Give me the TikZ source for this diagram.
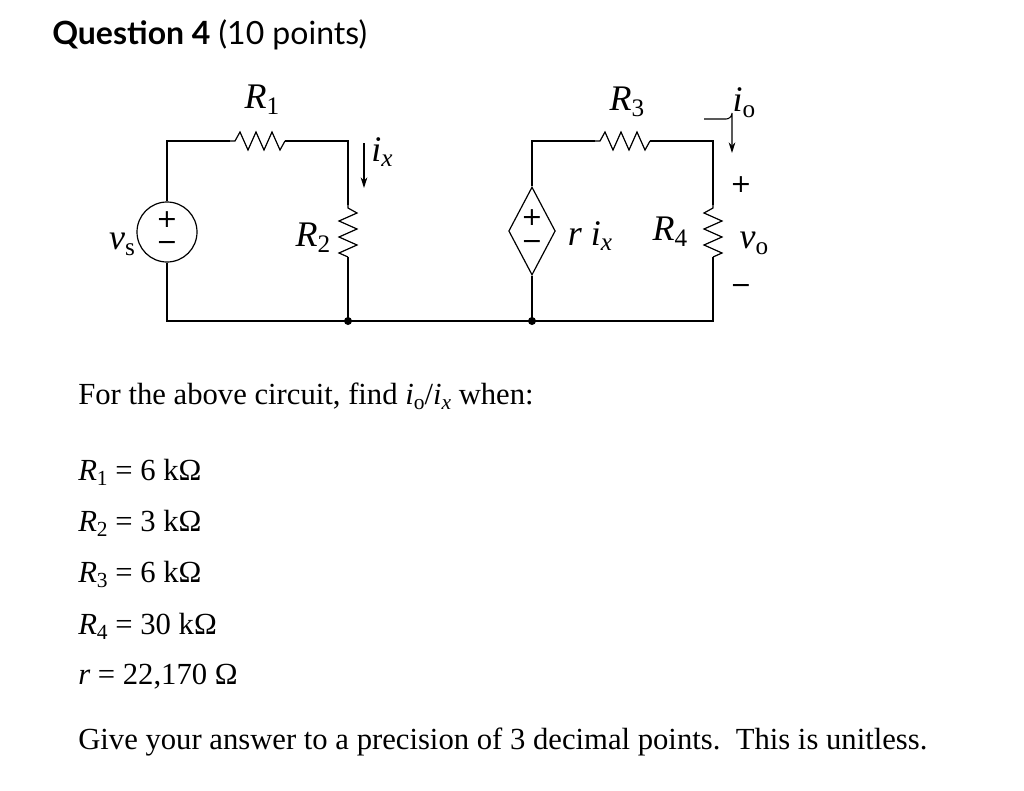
\documentclass[tikz,border=0pt]{standalone}
\usepackage{fontspec}
\setmainfont{Liberation Serif}
\newfontfamily\lato{Lato}
\newfontfamily\sgn{DejaVu Sans}
\usetikzlibrary{shapes.geometric,arrows.meta}
\newcommand{\iv}[1]{\textit{#1}}
\newcommand{\sbs}[1]{\raisebox{-0.35ex}{\scalebox{0.7}{#1}}}
\begin{document}
\begin{tikzpicture}[x=0.75pt,y=-0.75pt,
  wire/.style={line width=0.9pt},
  lbl/.style={inner sep=0pt,font=\fontsize{27}{29}\selectfont},
  sg/.style={inner sep=0pt,font=\sgn\fontsize{19}{19}\selectfont},
  txt/.style={anchor=west,inner sep=0pt,font=\fontsize{23}{26}\selectfont},
  dot/.style={circle,fill=black,inner sep=0pt,minimum size=6pt}]
\useasboundingbox (0,0) rectangle (1024,790);
% title
\node[anchor=west,inner sep=0pt,font=\lato\fontsize{24}{26}\selectfont] (title) at (52,35) {\textbf{Question 4} (10 points)};
% coordinates
\coordinate (tl) at (167,141); \coordinate (bl) at (167,321);
\coordinate (r1a) at (230,141); \coordinate (r1b) at (285,141);
\coordinate (tm) at (348,141); \coordinate (bm) at (348,321);
\coordinate (r2a) at (348,205); \coordinate (r2b) at (348,257);
\coordinate (tr) at (532,141); \coordinate (br) at (532,321);
\coordinate (r3a) at (595,141); \coordinate (r3b) at (650,141);
\coordinate (tR) at (713,141); \coordinate (bR) at (713,321);
\coordinate (r4a) at (713,205); \coordinate (r4b) at (713,257);
\node[draw,circle,minimum size=45pt,inner sep=0pt,line width=0.9pt] (vs) at (167,232) {};
\node[draw,diamond,minimum width=35pt,minimum height=66pt,inner sep=0pt,line width=0.9pt] (dep) at (532,231) {};
% wires
\draw[wire] (vs.north) -- (tl) -- (r1a);
\draw[wire] (r1b) -- (tm) -- (r2a);
\draw[wire] (r1a) -- ++(5,0) -- ++(5,-9) -- ++(8,18) -- ++(8,-18) -- ++(8,18) -- ++(8,-18) -- ++(8,18) -- (r1b);
\draw[wire] (r3a) -- ++(5,0) -- ++(5,-9) -- ++(8,18) -- ++(8,-18) -- ++(8,18) -- ++(8,-18) -- ++(8,18) -- (r3b);
\draw[wire] (r2a) -- ++(0,3) -- ++(9,5) -- ++(-18,8) -- ++(18,8) -- ++(-18,8) -- ++(18,8) -- ++(-18,8) -- (r2b);
\draw[wire] (r4a) -- ++(0,3) -- ++(-9,5) -- ++(18,8) -- ++(-18,8) -- ++(18,8) -- ++(-18,8) -- ++(18,8) -- (r4b);
\draw[wire] (r2b) -- (bm);
\draw[wire] (vs.south) -- (bl) -- (bR) -- (r4b);
\draw[wire] (r4a) -- (tR) -- (r3b);
\draw[wire] (r3a) -- (tr) -- (dep.north);
\draw[wire] (dep.south) -- (br);
\node[dot] (d1) at (bm) {};
\node[dot] (d2) at (br) {};
% signs
\node[sg] (vsp) at (167,220) {+};
\node[sg] (vsm) at (167,246) {−};
\node[sg] (dp) at (532,218) {+};
\node[sg] (dm) at (532,245) {−};
% labels
\node[lbl] (lR1) at (262,100) {\iv{R}\sbs{1}};
\node[lbl] (lR2) at (313,238) {\iv{R}\sbs{2}};
\node[lbl] (lvs) at (122,244) {\iv{v}\sbs{s}};
\node[lbl] (lR3) at (627,102) {\iv{R}\sbs{3}};
\node[lbl] (lR4) at (670,232) {\iv{R}\sbs{4}};
\node[lbl] (lri) at (590,236) {\iv{r} \iv{i}\sbs{\iv{x}}};
\node[lbl] (lix) at (382,152) {\iv{i}\sbs{\iv{x}}};
\node[lbl] (lio) at (744,103) {\iv{i}\sbs{o}};
\node[lbl] (lvo) at (754,243) {\iv{v}\sbs{o}};
\node[sg] (vop) at (741,185) {+};
\node[sg] (vom) at (741,289) {−};
\coordinate (ixa) at (364,143); \coordinate (ixb) at (364,188);
\draw[line width=0.8pt,-{Stealth[length=8pt,width=5pt]}] (ixa) -- (ixb);
\coordinate (ioa) at (704,119); \coordinate (iob) at (732,153);
\draw[line width=0.8pt,-{Stealth[length=8pt,width=5pt]}] (ioa) -- (726,119) arc[start angle=90,end angle=0,radius=6] -- (iob);
% text
\node[txt] (t1) at (78,396) {For the above circuit, find \iv{i}\sbs{o}/\iv{i}\sbs{\iv{x}} when:};
\node[txt] (t2) at (78,472) {\iv{R}\sbs{1} = 6 kΩ};
\node[txt] (t3) at (78,523) {\iv{R}\sbs{2} = 3 kΩ};
\node[txt] (t4) at (78,574) {\iv{R}\sbs{3} = 6 kΩ};
\node[txt] (t5) at (78,626) {\iv{R}\sbs{4} = 30 kΩ};
\node[txt] (t6) at (78,677) {\iv{r} = 22,170 Ω};
\node[txt] (t7) at (78,742) {Give your answer to a precision of 3 decimal points.\ \ This is unitless.};
\end{tikzpicture}
\end{document}
